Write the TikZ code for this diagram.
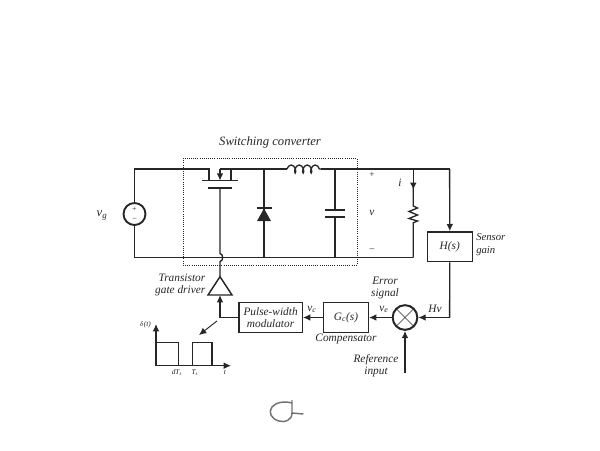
\documentclass[tikz,border=0pt]{standalone}
\usepackage{fontspec}
\setmainfont{Liberation Serif}
\usetikzlibrary{arrows.meta,decorations.pathmorphing}
\definecolor{ink}{HTML}{262626}
\newcommand{\subit}[2]{#1\textsubscript{#2}}
\tikzset{
	wire/.style={draw=ink, line width=1pt},
	flow/.style={wire, -{Latex[length=5.5pt,width=5pt]}},
	blockbox/.style={draw=ink, line width=1pt, inner sep=0pt, font=\itshape\fontsize{8.5}{9}\selectfont, text=ink, align=center},
	lbl/.style={inner sep=0pt, text=ink, font=\itshape\fontsize{8.5}{9}\selectfont, align=center},
	smalllbl/.style={inner sep=0pt, text=ink, font=\itshape\fontsize{5.5}{6}\selectfont}
}
\begin{document}
\begin{tikzpicture}[x=.75pt, y=-.75pt]
	\useasboundingbox (0,0) rectangle (600,450);
	% Converter frame
	\node[draw=ink, densely dotted, line width=.6pt, minimum width=130.5pt, minimum height=80pt, inner sep=0pt] (frame) at (270,211.7) {};
	\node[lbl, font=\itshape\fontsize{9.5}{10}\selectfont] (title) at (270,142.5) {Switching converter};
	% Source
	\node[circle, draw=ink, line width=1.4pt, minimum size=16.5pt, inner sep=0pt] (vsrc) at (134.5,214) {};
	\node[lbl, font=\fontsize{6}{6}\selectfont] (vplus) at (134.5,209) {+};
	\node[lbl, font=\fontsize{6}{6}\selectfont] (vminus) at (134.5,219.5) {--};
	\node[lbl, font=\itshape\fontsize{9.5}{10}\selectfont] (vg) at (102,215.5) {\subit{v}{g}};
	\coordinate (tl) at (134.5,169);
	\coordinate (bl) at (134.5,257.5);
	\coordinate (sl) at (209,169);
	\coordinate (sr) at (220,169);
	\coordinate (dr) at (231,169);
	\coordinate (chl) at (209,180.7);
	\coordinate (chr) at (231,180.7);
	\coordinate (chm) at (220,180.7);
	\coordinate (gate) at (220,187.7);
	\draw[wire] (vsrc.north) -- (tl) -- (sl) -- (chl);
	\draw[wire] (vsrc.south) -- (bl);
	% Transistor
	\draw[wire] (chr) -- (dr) -- (sr);
	\draw[flow] (sr) -- (chm);
	\draw[wire] (202,180.7) -- (238,180.7);
	\draw[draw=ink, line width=1.7pt] (208,187.7) -- (232,187.7);
	% Diode, inductor, capacitor
	\coordinate (dtop) at (264,169);
	\coordinate (dbot) at (264,257.5);
	\coordinate (ind1) at (287,169);
	\coordinate (ind2) at (321,169);
	\coordinate (ctop) at (335,169);
	\coordinate (cbot) at (335,257.5);
	\draw[wire] (dr) -- (ind1);
	\draw[wire, decorate, decoration={coil, aspect=.55, segment length=6pt, amplitude=3pt, pre length=0pt, post length=0pt}] (ind1) -- (ind2);
	\draw[wire] (ind2) -- (ctop);
	\draw[wire] (dtop) -- (dbot);
	\fill[ink] (264,208.5) -- (257,221) -- (271,221) -- cycle;
	\draw[draw=ink, line width=1.2pt] (256.5,208) -- (271.5,208);
	\draw[wire] (ctop) -- (335,210);
	\draw[wire] (335,217.3) -- (cbot);
	\draw[draw=ink, line width=1.4pt] (325,210) -- (345,210);
	\draw[draw=ink, line width=1.4pt] (325,217.3) -- (345,217.3);
	% Bottom rail with hop
	\draw[wire] (bl) -- (cbot) -- (413.3,257.5);
	\draw[wire] (gate) -- (220,253.5) .. controls (223.5,253.5) and (223.5,261.5) .. (220,261.5) -- (220,276.7);
	% Load
	\node[lbl, font=\fontsize{7}{7}\selectfont] (vp) at (372,175) {+};
	\node[lbl] (v) at (372,213) {v};
	\node[lbl, font=\fontsize{7}{7}\selectfont] (vm) at (372,250) {--};
	\node[lbl] (icur) at (400,183) {i};
	\coordinate (lt) at (413.3,169);
	\coordinate (rt) at (413.3,206);
	\coordinate (rb) at (413.3,222.7);
	\coordinate (lb) at (413.3,257.5);
	\coordinate (st) at (449.6,169);
	\draw[wire] (ctop) -- (st);
	\draw[flow] (lt) -- (413.3,190);
	\draw[wire] (413.3,188) -- (rt) -- (417.5,208) -- (409,211.5) -- (417.5,215) -- (409,218.5) -- (417.5,221) -- (rb) -- (lb);
	% Feedback blocks
	\node[blockbox, minimum width=33.75pt, minimum height=22.2pt] (hbox) at (449.8,246.8) {H(s)};
	\node[lbl, align=left, anchor=west, font=\itshape\fontsize{8}{9.2}\selectfont] (sensor) at (476,244.5) {Sensor\\gain};
	\node[blockbox, minimum width=33.5pt, minimum height=22.2pt] (comp) at (346,317.5) {\subit{G}{c}(s)};
	\node[blockbox, minimum width=47.5pt, minimum height=22.2pt] (pwm) at (270.6,317.5) {Pulse-width\\modulator};
	\node[circle, draw=ink, line width=1.5pt, minimum size=18.5pt, inner sep=0pt] (sum) at (405,317.5) {};
	\draw[draw=ink, line width=.5pt] (sum.45) -- (sum.225);
	\draw[draw=ink, line width=.5pt] (sum.135) -- (sum.315);
	\draw[draw=ink, line width=1.1pt] (220,276.7) -- (208,295) -- (232,295) -- cycle;
	\coordinate (drvbase) at (220,295);
	\coordinate (sumcorner) at (449.6,317.5);
	\coordinate (refin) at (405,373);
	\coordinate (drvcorner) at (220,317.5);
	\draw[flow] (st) -- (hbox.north);
	\draw[wire] (hbox.south) -- (sumcorner);
	\draw[flow] (sumcorner) -- (sum.east);
	\draw[flow] (refin) -- (sum.south);
	\draw[flow] (sum.west) -- (comp.east);
	\draw[flow] (comp.west) -- (pwm.east);
	\draw[wire] (pwm.west) -- (drvcorner);
	\draw[flow] (drvcorner) -- (drvbase);
	% Labels
	\node[lbl, align=right, anchor=east, font=\itshape\fontsize{8.5}{9.2}\selectfont] (drvlbl) at (205.5,285) {Transistor\\gate driver};
	\node[lbl] (errlbl) at (385,288) {Error\\signal};
	\node[lbl] (vc) at (312,309.5) {\subit{v}{c}};
	\node[lbl] (ve) at (384,309.5) {\subit{v}{e}};
	\node[lbl] (hv) at (435,308.5) {Hv};
	\node[lbl] (complbl) at (346,338.5) {Compensator};
	\node[lbl] (reflbl) at (376,366) {Reference\\input};
	% Waveform
	\coordinate (orig) at (156,365.7);
	\draw[flow, line width=.8pt] (orig) -- (156,324);
	\draw[flow, line width=.8pt] (orig) -- (231,365.7);
	\draw[wire, line width=.8pt] (orig) -- (156,342.7) -- (178.7,342.7) -- (178.7,365.7);
	\draw[wire, line width=.8pt] (192.7,365.7) -- (192.7,342.7) -- (212,342.7) -- (212,365.7);
	\node[smalllbl] (delta) at (145,325) {$\delta$(t)};
	\node[smalllbl] (dts) at (177,372.5) {\subit{dT}{s}};
	\node[smalllbl] (ts) at (195,372.5) {\subit{T}{s}};
	\node[smalllbl] (tlbl) at (225,372.5) {t};
	\coordinate (ptrfrom) at (217,321);
	\coordinate (ptrto) at (199,335);
	\draw[flow, line width=.7pt] (ptrfrom) -- (ptrto);
	% Pen mark
	\draw[draw=ink!65, line width=1.1pt, line cap=round] (292,400.5) -- (292,413) .. controls (292,420) and (285,423) .. (279,421) .. controls (271,419) and (268,412) .. (272,407) .. controls (276,402) and (285,401) .. (292,403);
	\draw[draw=ink!65, line width=1.1pt, line cap=round] (292,413) -- (303,414);
\end{tikzpicture}
\end{document}
